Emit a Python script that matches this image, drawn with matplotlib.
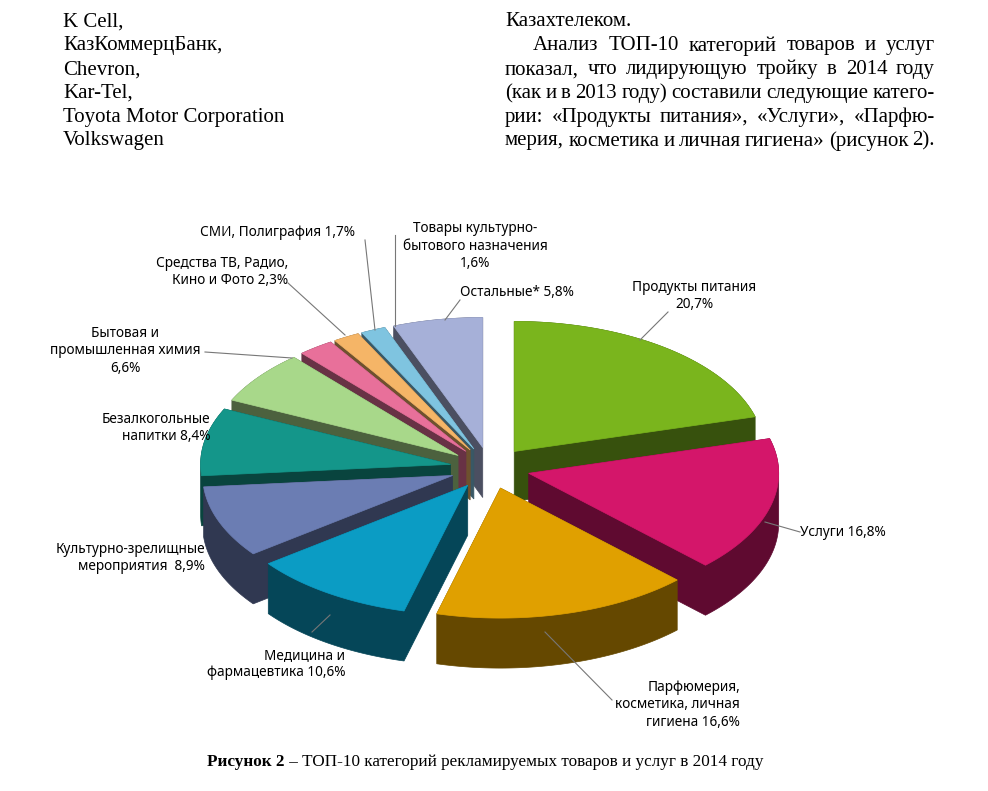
import numpy as np
import matplotlib.pyplot as plt
from matplotlib.patches import Polygon
from matplotlib.colors import to_rgb

labels = ["Продукты питания\n20,7%", "Услуги 16,8%",
          "Парфюмерия,\nкосметика, личная\nгигиена 16,6%",
          "Медицина и\nфармацевтика 10,6%", "Культурно-зрелищные\nмероприятия  8,9%",
          "Безалкогольные\nнапитки 8,4%", "Бытовая и\nпромышленная химия\n6,6%",
          "Средства ТВ, Радио,\nКино и Фото 2,3%", "СМИ, Полиграфия 1,7%",
          "Товары культурно-\nбытового назначения\n1,6%", "Остальные* 5,8%"]
values = [20.7, 16.8, 16.6, 10.6, 8.9, 8.4, 6.6, 2.3, 1.7, 1.6, 5.8]
colors = ["#7ab51d", "#d4166a", "#e0a000", "#0b9cc4", "#6b7db3", "#14968a",
          "#a8d88a", "#e8709a", "#f5b567", "#7fc4e0", "#a6b0d8"]

# label text position, alignment, leader line (from, to)
label_pos = [((694, 296), "center", (668, 312), (640, 340)),
             ((800, 532), "left", (800, 532), (765, 522)),
             ((740, 705), "right", (612, 700), (545, 632)),
             ((345, 664), "right", (312, 632), (330, 615)),
             ((205, 558), "right", None, None),
             ((210, 428), "right", None, None),
             ((125, 351), "center", (205, 352), (292, 358)),
             ((288, 272), "right", (288, 283), (345, 335)),
             ((355, 233), "right", (365, 240), (375, 330)),
             ((475, 246), "center", (395, 235), (395, 326)),
             ((460, 292), "left", (460, 300), (445, 320))]

left_col = ["K Cell,", "КазКоммерцБанк,", "Chevron,", "Kar-Tel,",
            "Toyota Motor Corporation", "Volkswagen"]
right_col = ["Казахтелеком.", "Анализ ТОП-10 категорий товаров и услуг",
             "показал, что лидирующую тройку в 2014 году",
             "(как и в 2013 году) составили следующие катего-",
             "рии: «Продукты питания», «Услуги», «Парфю-",
             "мерия, косметика и личная гигиена» (рисунок 2)."]

fig = plt.figure(figsize=(9.88, 7.91), dpi=100)
ax = fig.add_axes([0, 0, 1, 1])
ax.set_xlim(0, 988)
ax.set_ylim(791, 0)
ax.axis("off")
renderer = fig.canvas.get_renderer()

serif = "Liberation Serif"
fs = 15
for i, t in enumerate(left_col):
    ax.text(63, 22 + i * 23.8, t, fontsize=fs, family=serif, va="center")


def justified(line, x0, x1, y):
    words = line.split(" ")
    arts = [ax.text(0, y, w, fontsize=fs, family=serif, va="center") for w in words]
    widths = [a.get_window_extent(renderer).width for a in arts]
    gap = (x1 - x0 - sum(widths)) / (len(words) - 1)
    x = x0
    for a, w in zip(arts, widths):
        a.set_x(x)
        x += w + gap


for i, t in enumerate(right_col):
    y = 22 + i * 23.8
    if i == 0:
        ax.text(505, y, t, fontsize=fs, family=serif, va="center")
    else:
        justified(t, 533 if i == 1 else 505, 935, y)

cap_b = ax.text(207, 762, "Рисунок 2", fontsize=12.3, family=serif, weight="bold", va="center")
wb = cap_b.get_window_extent(renderer).width
ax.text(207 + wb, 762, " – ТОП-10 категорий рекламируемых товаров и услуг в 2014 году",
        fontsize=12.3, family=serif, va="center")


def hull(pts):
    pts = sorted(set(map(tuple, np.round(pts, 3))))
    def cross(o, a, b):
        return (a[0]-o[0])*(b[1]-o[1]) - (a[1]-o[1])*(b[0]-o[0])
    lo, up = [], []
    for p in pts:
        while len(lo) >= 2 and cross(lo[-2], lo[-1], p) <= 0:
            lo.pop()
        lo.append(p)
    for p in reversed(pts):
        while len(up) >= 2 and cross(up[-2], up[-1], p) <= 0:
            up.pop()
        up.append(p)
    return np.array(lo[:-1] + up[:-1])


cx, cy, r, k, expl, depth = 490, 468, 250, 0.52, 40, 50
total = sum(values)
start = 90.0
wedges = []
for v, c in zip(values, colors):
    a0 = start
    a1 = start - 360 * v / total
    start = a1
    mid = np.radians((a0 + a1) / 2)
    ox = cx + expl * np.cos(mid)
    oy = cy - expl * k * np.sin(mid)
    t = np.radians(np.linspace(a0, a1, 80))
    pts = np.vstack([[ox, oy], np.column_stack([ox + r*np.cos(t), oy - k*r*np.sin(t)])])
    wedges.append((np.sin(mid), pts, c))

for s, pts, c in sorted(wedges, key=lambda w: -w[0]):
    side = hull(np.vstack([pts, pts + [0, depth]]))
    dark = tuple(0.45 * np.array(to_rgb(c)))
    ax.add_patch(Polygon(side, closed=True, fc=dark, ec=dark, lw=0.5))
    ax.add_patch(Polygon(pts, closed=True, fc=c, ec=c, lw=0.5))

for lab, (pos, ha, p0, p1) in zip(labels, label_pos):
    ax.text(pos[0], pos[1], lab, fontsize=9.8, family="Noto Sans", ha=ha, va="center",
            multialignment=ha, linespacing=1.25)
    if p0 is not None:
        ax.plot([p0[0], p1[0]], [p0[1], p1[1]], color="#777777", lw=0.8)

fig.savefig("out.png", dpi=100)
